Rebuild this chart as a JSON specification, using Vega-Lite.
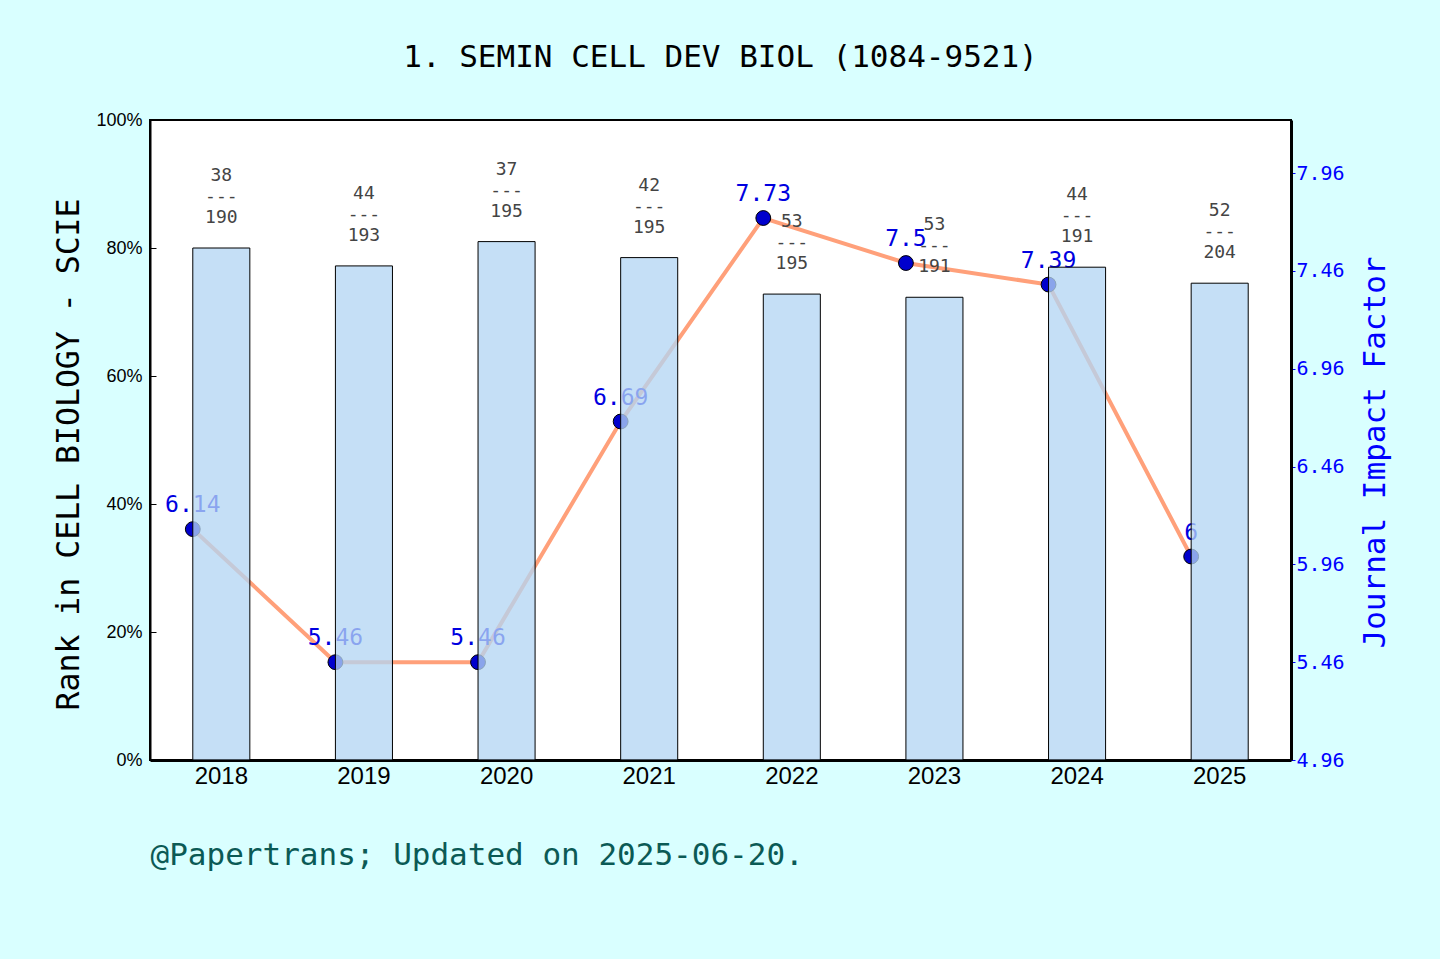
{
  "$schema": "https://vega.github.io/schema/vega-lite/v6.json",
  "width": 1141,
  "height": 640,
  "autosize": {"type": "none"},
  "padding": {"left": 150, "top": 120, "right": 149, "bottom": 199},
  "background": "#d9ffff",
  "title": {
    "text": "1. SEMIN CELL DEV BIOL (1084-9521)",
    "font": "DejaVu Sans Mono",
    "fontSize": 31,
    "fontWeight": "normal",
    "color": "black",
    "anchor": "middle",
    "frame": "group",
    "baseline": "alphabetic",
    "offset": 13
  },
  "config": {
    "view": {"fill": "white", "stroke": "black", "strokeWidth": 2},
    "axis": {"grid": false}
  },
  "data": {
    "values": [
      {"year": "2018", "pct": 0.800, "jif": 6.14, "jifLabel": "6.14", "rankLabel": "38\n---\n190"},
      {"year": "2019", "pct": 0.772, "jif": 5.46, "jifLabel": "5.46", "rankLabel": "44\n---\n193"},
      {"year": "2020", "pct": 0.810, "jif": 5.46, "jifLabel": "5.46", "rankLabel": "37\n---\n195"},
      {"year": "2021", "pct": 0.785, "jif": 6.69, "jifLabel": "6.69", "rankLabel": "42\n---\n195"},
      {"year": "2022", "pct": 0.728, "jif": 7.73, "jifLabel": "7.73", "rankLabel": "53\n---\n195"},
      {"year": "2023", "pct": 0.723, "jif": 7.5, "jifLabel": "7.5", "rankLabel": "53\n---\n191"},
      {"year": "2024", "pct": 0.770, "jif": 7.39, "jifLabel": "7.39", "rankLabel": "44\n---\n191"},
      {"year": "2025", "pct": 0.745, "jif": 6.0, "jifLabel": "6", "rankLabel": "52\n---\n204"}
    ]
  },
  "layer": [
    {
      "encoding": {
        "x": {
          "field": "year", "type": "ordinal", "bandPosition": 0.3,
          "scale": {"type": "band", "paddingInner": 0, "paddingOuter": 0},
          "axis": {
            "title": "@Papertrans; Updated on 2025-06-20.",
            "titleAnchor": "start", "titleAlign": "left",
            "titleFont": "DejaVu Sans Mono", "titleFontSize": 31, "titleFontWeight": "normal",
            "titleColor": "#0b5a55", "titlePadding": 52,
            "labelAngle": 0, "labelFont": "Liberation Sans", "labelFontSize": 24, "labelColor": "black",
            "labelPadding": 4, "ticks": false,
            "domainColor": "black", "domainWidth": 3
          }
        },
        "y": {
          "field": "jif", "type": "quantitative",
          "scale": {"domain": [4.96, 8.231], "nice": false, "zero": false},
          "axis": {
            "orient": "right",
            "title": "Journal Impact Factor",
            "titleFont": "DejaVu Sans Mono", "titleFontSize": 31, "titleFontWeight": "normal",
            "titleColor": "#0000ff", "titleAngle": 270, "titlePadding": 47, "titleY": 332,
            "values": [4.96, 5.46, 5.96, 6.46, 6.96, 7.46, 7.96],
            "format": ".2f",
            "labelFont": "DejaVu Sans Mono", "labelFontSize": 20, "labelColor": "#0000ff",
            "tickColor": "#0000ff", "tickSize": 4, "labelPadding": 1,
            "domainColor": "black", "domainWidth": 3
          }
        }
      },
      "layer": [
        {"mark": {"type": "line", "color": "#ffa07a", "strokeWidth": 4}},
        {"mark": {"type": "point", "shape": "circle", "filled": true, "size": 220, "fill": "#0000cd", "stroke": "black", "strokeWidth": 1, "opacity": 1}},
        {"mark": {"type": "text", "dy": -24, "font": "DejaVu Sans Mono", "fontSize": 23, "color": "#0000e0"},
         "encoding": {"text": {"field": "jifLabel"}}}
      ]
    },
    {
      "encoding": {
        "x": {
          "field": "year", "type": "ordinal",
          "scale": {"type": "band", "paddingInner": 0, "paddingOuter": 0},
          "axis": {
            "title": "@Papertrans; Updated on 2025-06-20.",
            "titleAnchor": "start", "titleAlign": "left",
            "titleFont": "DejaVu Sans Mono", "titleFontSize": 31, "titleFontWeight": "normal",
            "titleColor": "#0b5a55", "titlePadding": 52,
            "labelAngle": 0, "labelFont": "Liberation Sans", "labelFontSize": 24, "labelColor": "black",
            "labelPadding": 4, "ticks": false,
            "domainColor": "black", "domainWidth": 3
          }
        },
        "y": {
          "field": "pct", "type": "quantitative",
          "scale": {"domain": [0, 1], "nice": false},
          "axis": {
            "orient": "left",
            "title": "Rank in CELL BIOLOGY - SCIE",
            "titleFont": "DejaVu Sans Mono", "titleFontSize": 31.5, "titleFontWeight": "normal",
            "titleColor": "black", "titlePadding": 10, "titleY": 334,
            "values": [0, 0.2, 0.4, 0.6, 0.8, 1.0],
            "format": ".0%",
            "labelFont": "Liberation Sans", "labelFontSize": 18, "labelColor": "black",
            "tickColor": "black", "tickSize": -6, "labelPadding": 14,
            "domainColor": "black", "domainWidth": 2
          }
        }
      },
      "layer": [
        {"mark": {"type": "bar", "width": {"band": 0.4}, "fill": "#b3d5f3", "fillOpacity": 0.77, "stroke": "black", "strokeWidth": 1}},
        {"mark": {"type": "text", "baseline": "bottom", "dy": -63, "lineBreak": "\n", "lineHeight": 21, "font": "DejaVu Sans Mono", "fontSize": 18, "color": "#444444"},
         "encoding": {"text": {"field": "rankLabel"}}}
      ]
    }
  ],
  "resolve": {"scale": {"y": "independent"}}
}
